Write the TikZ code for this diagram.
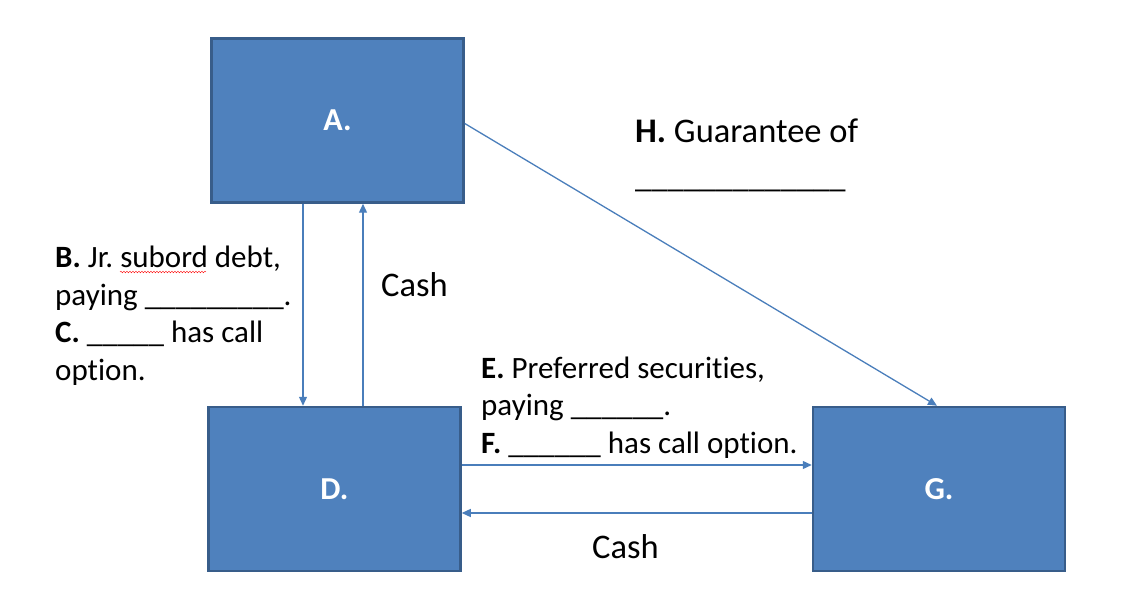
\documentclass[tikz,border=0pt]{standalone}
\usepackage{fontspec}
\setmainfont{Carlito}[Ligatures=NoCommon]
\frenchspacing
\usetikzlibrary{arrows.meta, positioning, decorations.pathmorphing}
\definecolor{boxblue}{HTML}{4F81BD}
\definecolor{boxedge}{HTML}{385D8A}
\definecolor{linkblue}{HTML}{4A7EBB}
\tikzset{
  party/.style={rectangle,draw=boxedge,fill=boxblue,line width=2.5pt,
    minimum width=252pt,minimum height=164pt,text=white,
    font=\bfseries\fontsize{32}{36}\selectfont},
  note/.style={align=left,inner sep=0pt,anchor=base west,
    font=\fontsize{31}{37.5}\selectfont},
  bignote/.style={align=left,inner sep=0pt,anchor=base west,
    font=\fontsize{34.5}{45}\selectfont},
  ar/.style={-{Triangle[length=9pt,width=8pt]},line width=1.3pt,draw=linkblue}
}

\begin{document}
\begin{tikzpicture}[x=1pt,y=-1pt]
\useasboundingbox (0,0) rectangle (1121,593);
% the three parties
\node[party] (a) at (337.5,120.5) {A.};
\node[party] (d) at (334.5,489) {D.};
\node[party] (g) at (939,489) {G.};
% flows
\draw[ar] ([xshift=-34.5pt]a.south) -- ([xshift=-34.5pt]a.south |- d.north);
\draw[ar] ([xshift=28.5pt]d.north) -- ([xshift=28.5pt]d.north |- a.south);
\draw[ar] ([yshift=24pt]d.east) -- ([yshift=24pt]d.east -| g.west);
\draw[ar] ([yshift=-24pt]g.west) -- ([yshift=-24pt]g.west -| d.east);
\draw[ar] ([yshift=-3pt]a.east) -- ([xshift=-2pt]g.north);
% labels (anchored on the last line)
\node[note] (bc) at (55,380) {\textbf{B.} Jr. subord debt,\\
  paying \_\_\_\_\_\_\_\_\_.\\
  \textbf{C.} \_\_\_\_\_ has call\\
  option.};
\draw[red,decorate,decoration={snake,amplitude=0.8pt,segment length=3pt}]
  (120,272) -- (206,272);
\node[note] (ef) at (481,453) {\textbf{E.} Preferred securities,\\
  paying \_\_\_\_\_\_.\\
  \textbf{F.} \_\_\_\_\_\_ has call option.};
\node[bignote] (cashup) at (381,297) {Cash};
\node[bignote] (cashback) at (592,558) {Cash};
\node[bignote] (h) at (635,188) {\textbf{H.} Guarantee of\\
  {\fontsize{32.5}{45}\selectfont\_\_\_\_\_\_\_\_\_\_\_\_\_}};
\end{tikzpicture}
\end{document}
